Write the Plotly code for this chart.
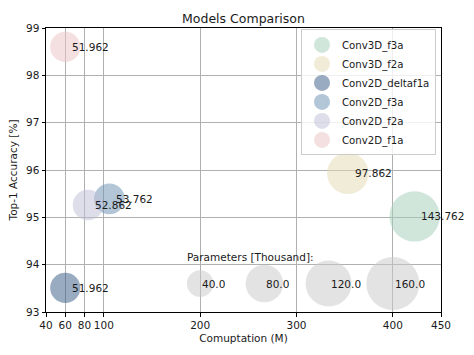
import plotly.graph_objects as go

# ---- data ----
models = ["Conv3D_f3a", "Conv3D_f2a", "Conv2D_deltaf1a", "Conv2D_f3a", "Conv2D_f2a", "Conv2D_f1a"]
computation = [422.6, 353.3, 60.0, 105.8, 83.6, 60.0]
accuracy = [95.02, 95.93, 93.51, 95.39, 95.26, 98.60]
params = [143.762, 97.862, 51.962, 53.762, 52.862, 51.962]
colors = ["#a6d0bc", "#e6dbb3", "#3e6087", "#6f94b7", "#c0c0d8", "#ebc4c8"]

ref_params = [40.0, 80.0, 120.0, 160.0]
ref_x = [200.0, 266.67, 333.33, 400.0]
ref_y = [93.6, 93.6, 93.6, 93.6]

x_ticks = [40, 60, 80, 100, 200, 300, 400, 450]
y_ticks = [93, 94, 95, 96, 97, 98, 99]

FONT = "DejaVu Sans"
TXT = "#1a1a1a"
SIZEREF = 2 / 17.6
OP = 0.75

fig = go.Figure()

# reference (gray) bubbles
fig.add_trace(go.Scatter(
    x=ref_x, y=ref_y, mode="markers", showlegend=False, hoverinfo="skip",
    marker=dict(size=ref_params, sizemode="area", sizeref=SIZEREF,
                color="#cbcbcb", line=dict(width=0)),
    opacity=OP,
))

for m, cx, cy, p, c in zip(models, computation, accuracy, params, colors):
    fig.add_trace(go.Scatter(
        x=[cx], y=[cy], mode="markers", name=m,
        marker=dict(size=[p], sizemode="area", sizeref=SIZEREF, color=c, line=dict(width=0)),
        opacity=OP,
    ))

annotations = []
for cx, cy, p in zip(computation, accuracy, params):
    annotations.append(dict(x=cx + 5, y=cy, text=f"{p:.3f}", showarrow=False,
                            xanchor="left", yanchor="middle",
                            font=dict(family=FONT, size=10.5, color=TXT)))
for cx, cy, p in zip(ref_x, ref_y, ref_params):
    annotations.append(dict(x=cx, y=cy, text=f"{p:.1f}", showarrow=False,
                            xanchor="left", yanchor="middle",
                            font=dict(family=FONT, size=10.5, color=TXT)))
annotations.append(dict(x=184, y=94.17, text="Parameters [Thousand]:", showarrow=False,
                        xanchor="left", yanchor="middle",
                        font=dict(family=FONT, size=10.5, color=TXT)))

axis_common = dict(
    showline=True, linecolor="black", linewidth=1, mirror=True,
    ticks="outside", ticklen=3.5, tickwidth=1, tickcolor="black",
    showgrid=True, gridcolor="#b0b0b0", gridwidth=1, zeroline=False,
    tickfont=dict(family=FONT, size=10.5, color=TXT), automargin=True,
)

fig.update_layout(
    width=474, height=355,
    margin=dict(l=46, r=33, t=28, b=43),
    paper_bgcolor="white", plot_bgcolor="white",
    title=dict(text="Models Comparison", x=0.5, xref="paper", xanchor="center",
               y=1, yref="paper", yanchor="bottom", pad=dict(b=5),
               font=dict(family=FONT, size=12.5, color=TXT)),
    xaxis=dict(range=[40, 450], tickvals=x_ticks, ticktext=[str(v) for v in x_ticks],
               title=dict(text="Comuptation (M)", font=dict(family=FONT, size=10.5, color=TXT), standoff=4),
               **axis_common),
    yaxis=dict(range=[93, 99], tickvals=y_ticks, ticktext=[str(v) for v in y_ticks],
               title=dict(text="Top-1 Accuracy [%]", font=dict(family=FONT, size=10.5, color=TXT), standoff=6),
               **axis_common),
    legend=dict(x=(301 - 46) / 395, xanchor="left", y=0.995, yanchor="top",
                bgcolor="rgba(255,255,255,0.8)", bordercolor="#cccccc", borderwidth=1,
                font=dict(family=FONT, size=10.2, color=TXT), itemsizing="trace",
                tracegroupgap=0),
    annotations=annotations,
    showlegend=True,
)

fig.write_html("out.html", config={"displayModeBar": False},
               post_script="document.body.style.margin='0';")
